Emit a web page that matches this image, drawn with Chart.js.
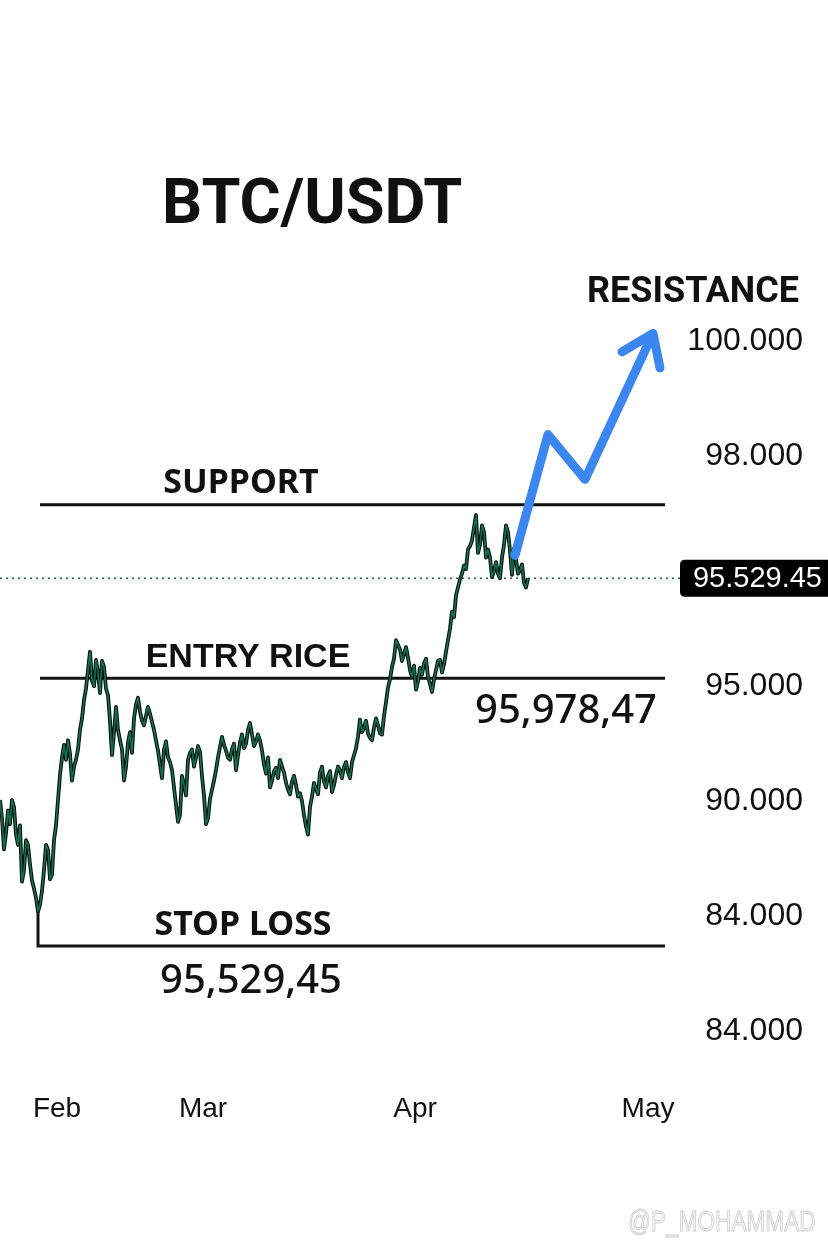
<!DOCTYPE html>
<html>
<head>
<meta charset="utf-8">
<script src="https://cdn.jsdelivr.net/npm/chart.js@4.4.1/dist/chart.umd.min.js"></script>
<style>
  html, body { margin: 0; padding: 0; background: #fff; }
  canvas { display: block; }
</style>
</head>
<body>
<canvas id="btc-chart" width="828" height="1242"></canvas>
<script>
// price path, one point per bar, in axis level units (0 = lowest 84.000 row, 6 = 100.000 row)
var priceLevels = [
  2.01, 1.85, 1.58, 1.72, 1.92, 1.80, 2.01, 1.95, 1.71, 1.62,
  1.79, 1.30, 1.40, 1.66, 1.62, 1.45, 1.31, 1.24, 1.16, 1.04,
  1.10, 1.22, 1.40, 1.62, 1.58, 1.32, 1.36, 1.66, 1.79, 2.01,
  2.23, 2.38, 2.49, 2.36, 2.53, 2.41, 2.18, 2.30, 2.36, 2.45,
  2.62, 2.72, 2.88, 2.98, 3.14, 3.30, 3.05, 3.00, 3.23, 3.12,
  2.94, 3.22, 3.17, 2.98, 2.92, 2.70, 2.40, 2.60, 2.82, 2.62,
  2.53, 2.45, 2.18, 2.30, 2.51, 2.60, 2.42, 2.72, 2.84, 2.90,
  2.78, 2.70, 2.66, 2.74, 2.82, 2.76, 2.69, 2.62, 2.53, 2.44,
  2.32, 2.20, 2.45, 2.52, 2.38, 2.34, 2.27, 2.12, 1.97, 1.82,
  1.88, 2.22, 2.14, 2.05, 2.36, 2.42, 2.45, 2.30, 2.38, 2.48,
  2.43, 2.22, 2.05, 1.80, 1.85, 2.02, 2.10, 2.18, 2.27, 2.38,
  2.47, 2.56, 2.49, 2.44, 2.38, 2.36, 2.45, 2.50, 2.27, 2.40,
  2.51, 2.58, 2.46, 2.50, 2.62, 2.68, 2.58, 2.48, 2.52, 2.58,
  2.53, 2.44, 2.32, 2.24, 2.38, 2.12, 2.18, 2.26, 2.29, 2.20,
  2.36, 2.30, 2.25, 2.16, 2.10, 2.06, 2.17, 2.22, 2.14, 2.04,
  2.07, 2.00, 1.88, 1.78, 1.71, 1.95, 2.04, 2.16, 2.11, 2.06,
  2.25, 2.30, 2.17, 2.12, 2.22, 2.26, 2.08, 2.14, 2.23, 2.30,
  2.27, 2.20, 2.30, 2.34, 2.25, 2.20, 2.34, 2.40, 2.46, 2.56,
  2.71, 2.60, 2.64, 2.70, 2.59, 2.55, 2.53, 2.64, 2.72, 2.66,
  2.59, 2.58, 2.74, 2.86, 2.99, 3.06, 3.17, 3.24, 3.40, 3.36,
  3.32, 3.22, 3.28, 3.34, 3.25, 3.14, 3.08, 3.18, 2.97, 3.04,
  3.16, 3.10, 3.20, 3.24, 3.08, 3.02, 2.95, 3.06, 3.14, 3.22,
  3.23, 3.12, 3.19, 3.30, 3.40, 3.50, 3.65, 3.60, 3.79, 3.86,
  3.93, 3.98, 4.05, 4.02, 4.19, 4.22, 4.27, 4.38, 4.49, 4.16,
  4.23, 4.40, 4.34, 4.12, 4.19, 4.12, 3.95, 4.00, 4.08, 3.98,
  3.94, 4.12, 4.23, 4.40, 4.34, 4.18, 3.97, 4.20, 4.10, 3.98,
  4.01, 4.06, 3.90, 3.86, 3.94
];

var yTickLevels = [0, 1, 2, 3, 5, 6];
var yTickLabels = ['84.000', '84.000', '90.000', '95.000', '98.000', '100.000'];

var monthBars = [28.5, 101.5, 207.5, 324];
var monthLabels = ['Feb', 'Mar', 'Apr', 'May'];

var supportLevel = 4.58;
var entryLevel = 3.07;
var stopLevel = 0.74;
var lastLevel = 3.94;
var lastPriceText = '95.529.45';
var entryPriceText = '95,978,47';
var stopPriceText = '95,529,45';

var levelsStartBar = 20;
var levelsEndBar = 332.5;
var wickBar = 19;
var wickTopLevel = 1.08;
var lastBar = 340;

// projected move: start, peak, pullback, target
var arrowBars = [257.5, 274, 292.5, 326.5];
var arrowLevels = [4.14, 5.19, 4.80, 6.07];
var arrowHeadBars = [311, 330];
var arrowHeadLevels = [5.91, 5.77];

var pricePoints = priceLevels.map(function (v, i) { return { x: i, y: v }; });

var arrowPoints = arrowBars.map(function (b, i) { return { x: b, y: arrowLevels[i] }; });
var tip = arrowPoints[arrowPoints.length - 1];
arrowPoints.push({ x: arrowHeadBars[0], y: arrowHeadLevels[0] });
arrowPoints.push({ x: tip.x, y: tip.y });
arrowPoints.push({ x: arrowHeadBars[1], y: arrowHeadLevels[1] });

function hLine(level) {
  return [{ x: levelsStartBar, y: level }, { x: levelsEndBar, y: level }];
}

var base = { pointRadius: 0, tension: 0, fill: false, borderJoinStyle: 'round' };

var annotations = {
  id: 'annotations',
  afterDraw: function (chart) {
    var ctx = chart.ctx;
    var ys = chart.scales.y;
    ctx.save();
    ctx.fillStyle = '#111';
    ctx.textBaseline = 'alphabetic';

    ctx.textAlign = 'left';
    ctx.font = 'bold 63px Roboto';
    ctx.fillText('BTC/USDT', 162, 223);

    ctx.textAlign = 'center';
    ctx.font = 'bold 36px Roboto';
    ctx.fillText('RESISTANCE', 693, 302);

    ctx.font = 'bold 34px "Noto Sans"';
    ctx.fillText('SUPPORT', 241, ys.getPixelForValue(supportLevel) - 12);
    ctx.fillText('STOP LOSS', 243, ys.getPixelForValue(stopLevel) - 11);

    ctx.font = 'bold 34px "Liberation Sans"';
    ctx.fillText('ENTRY RICE', 248, ys.getPixelForValue(entryLevel) - 11);

    ctx.font = '500 40px "Noto Sans"';
    ctx.fillText(stopPriceText, 251, ys.getPixelForValue(stopLevel) + 47);
    ctx.textAlign = 'right';
    ctx.fillText(entryPriceText, 657, ys.getPixelForValue(entryLevel) + 45);

    // last price tag on the axis
    var py = ys.getPixelForValue(lastLevel);
    var left = chart.chartArea.right, right = chart.width, h = 37, r = 5;
    ctx.fillStyle = '#000';
    ctx.beginPath();
    ctx.moveTo(left + r, py - h / 2);
    ctx.lineTo(right, py - h / 2);
    ctx.lineTo(right, py + h / 2);
    ctx.lineTo(left + r, py + h / 2);
    ctx.quadraticCurveTo(left, py + h / 2, left, py + h / 2 - r);
    ctx.lineTo(left, py - h / 2 + r);
    ctx.quadraticCurveTo(left, py - h / 2, left + r, py - h / 2);
    ctx.fill();
    ctx.fillStyle = '#fff';
    ctx.font = '29px "Liberation Sans"';
    ctx.textBaseline = 'middle';
    ctx.fillText(lastPriceText, 822, py + 1);

    // watermark
    ctx.textBaseline = 'alphabetic';
    ctx.textAlign = 'left';
    ctx.font = '29px "Liberation Sans"';
    ctx.translate(628, 1231);
    ctx.scale(0.78, 1);
    ctx.fillStyle = '#f7f7f7';
    ctx.strokeStyle = '#d0d0d0';
    ctx.lineWidth = 1;
    ctx.fillText('@P_MOHAMMAD', 0, 0);
    ctx.strokeText('@P_MOHAMMAD', 0, 0);
    ctx.restore();
  }
};

var chart = new Chart(document.getElementById('btc-chart'), {
  type: 'line',
  data: {
    datasets: [
      Object.assign({ data: arrowPoints, borderColor: '#3b86ef', borderWidth: 9, borderCapStyle: 'round' }, base),
      Object.assign({ data: pricePoints, borderColor: '#16704f', borderWidth: 1.6 }, base),
      Object.assign({ data: pricePoints, borderColor: '#07120e', borderWidth: 3.8 }, base),
      Object.assign({ data: hLine(supportLevel), borderColor: '#111', borderWidth: 3 }, base),
      Object.assign({ data: hLine(entryLevel), borderColor: '#111', borderWidth: 3 }, base),
      Object.assign({ data: [{ x: wickBar, y: wickTopLevel }, { x: wickBar, y: stopLevel }, { x: levelsEndBar, y: stopLevel }],
        borderColor: '#111', borderWidth: 3, borderJoinStyle: 'miter' }, { pointRadius: 0, tension: 0, fill: false }),
      Object.assign({ data: [{ x: 0, y: lastLevel }, { x: lastBar, y: lastLevel }], borderColor: '#2f5a4c', borderWidth: 1.5, borderDash: [2, 4] }, base)
    ]
  },
  options: {
    responsive: false,
    maintainAspectRatio: false,
    animation: false,
    layout: { padding: { top: 284, bottom: 113.5, left: 0, right: 25 } },
    plugins: { legend: { display: false }, tooltip: { enabled: false } },
    scales: {
      x: {
        type: 'linear',
        min: 0,
        max: lastBar,
        grid: { display: false, drawTicks: false },
        border: { display: false },
        afterFit: function (scale) { scale.height = 40; },
        afterBuildTicks: function (scale) {
          scale.ticks = monthBars.map(function (v) { return { value: v }; });
        },
        ticks: {
          padding: 4,
          maxRotation: 0,
          color: '#111',
          font: { family: 'Liberation Sans', size: 28 },
          callback: function (value) {
            var i = monthBars.indexOf(value);
            return i >= 0 ? monthLabels[i] : '';
          }
        }
      },
      y: {
        type: 'linear',
        position: 'right',
        min: -0.5,
        max: 6.5,
        grid: { display: false, drawTicks: false },
        border: { display: false },
        afterFit: function (scale) { scale.width = 123; },
        afterBuildTicks: function (scale) {
          scale.ticks = yTickLevels.map(function (v) { return { value: v }; });
        },
        ticks: {
          padding: 7,
          crossAlign: 'far',
          color: '#111',
          font: { family: 'Liberation Sans', size: 32 },
          callback: function (value) {
            var i = yTickLevels.indexOf(value);
            return i >= 0 ? yTickLabels[i] : '';
          }
        }
      }
    }
  },
  plugins: [annotations]
});
</script>
</body>
</html>
